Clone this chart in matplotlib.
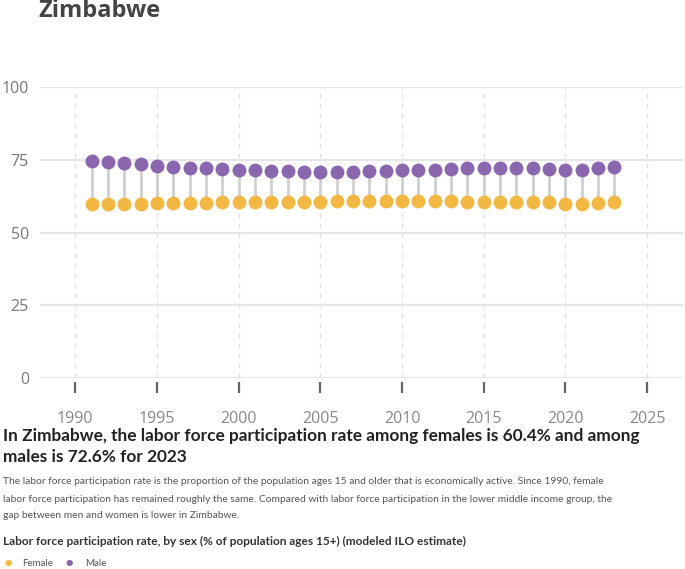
import matplotlib
matplotlib.use("Agg")
import matplotlib.pyplot as plt

years = list(range(1991, 2024))
female = [59.7, 59.8, 59.8, 59.9, 60.1, 60.2, 60.3, 60.3, 60.4, 60.5,
          60.6, 60.6, 60.7, 60.7, 60.7, 60.8, 60.8, 60.8, 60.8, 60.8,
          60.8, 60.8, 60.8, 60.7, 60.7, 60.7, 60.7, 60.7, 60.7, 59.7,
          60.0, 60.1, 60.4]
male = [74.6, 74.3, 73.9, 73.5, 73.0, 72.7, 72.4, 72.2, 71.9, 71.6,
        71.4, 71.3, 71.2, 71.0, 71.0, 70.9, 70.9, 71.1, 71.3, 71.5,
        71.6, 71.7, 72.0, 72.2, 72.3, 72.4, 72.4, 72.2, 72.0, 71.4,
        71.7, 72.4, 72.6]
xticks = [1990, 1995, 2000, 2005, 2010, 2015, 2020, 2025]
yticks = [0, 25, 50, 75, 100]

country = "Zimbabwe"
headline = ["In Zimbabwe, the labor force participation rate among females is 60.4% and among",
            "males is 72.6% for 2023"]
body = ["The labor force participation rate is the proportion of the population ages 15 and older that is economically active. Since 1990, female",
        "labor force participation has remained roughly the same. Compared with labor force participation in the lower middle income group, the",
        "gap between men and women is lower in Zimbabwe."]
subtitle = "Labor force participation rate, by sex (% of population ages 15+) (modeled ILO estimate)"

FEMALE_C = "#f2b843"
MALE_C = "#8a66ae"

plt.rcParams['font.family'] = ['Open Sans', 'DejaVu Sans']

fig = plt.figure(figsize=(6.85, 5.69), dpi=100)
renderer = fig.canvas.get_renderer()


def fit_size(txt, width_px, start=10):
    # shrink/grow font so the line spans about width_px
    t = txt.get_fontsize()
    for _ in range(3):
        w = txt.get_window_extent(renderer).width
        t = t * width_px / w
        txt.set_fontsize(t)
    return t


ax = fig.add_axes([40 / 685, (569 - 378) / 569, 643 / 685, (378 - 87.3) / 569])
ax.set_xlim(1987.84, 2027.2)
ax.set_ylim(0, 100)
for s in ax.spines.values():
    s.set_visible(False)

for y in yticks:
    ax.axhline(y, color="#e6e6e6", lw=1.6, zorder=0)
for x in xticks:
    ax.axvline(x, color="#e0e0e0", lw=0.9, ls=(0, (4, 4)), zorder=0)
ax.vlines(xticks, -1.4, -5.2, color="#666666", lw=1.6, clip_on=False)

ax.vlines(years, female, male, color="#d0d0d0", lw=2, zorder=1)
ax.plot(years, male, "o", color=MALE_C, ms=10, mec="none", zorder=3)
ax.plot(years, female, "o", color=FEMALE_C, ms=10, mec="none", zorder=3)

ax.set_xticks(xticks)
ax.set_xticklabels([str(x) for x in xticks])
ax.set_yticks(yticks)
ax.set_yticklabels([str(y) for y in yticks])
ax.tick_params(axis="x", length=0, pad=24, labelsize=11.5, labelcolor="#888888")
ax.tick_params(axis="y", length=0, pad=8, labelsize=11.5, labelcolor="#777777")

fig.text(38 / 685, 1 - 11 / 569, country, fontsize=17, fontweight="bold",
         color="#444444", va="center", ha="left")

# headline, two lines
h1 = fig.text(3 / 685, 1 - 436 / 569, headline[0], fontsize=12, fontweight="bold",
              color="#222222", va="center", ha="left", family="Lato")
hs = fit_size(h1, 640)
fig.text(3 / 685, 1 - 457 / 569, headline[1], fontsize=hs, fontweight="bold",
         color="#222222", va="center", ha="left", family="Lato")

# body text
b1 = fig.text(3 / 685, 1 - 482 / 569, body[0], fontsize=8, color="#555555",
              va="center", ha="left", family="Lato")
bs = fit_size(b1, 602)
for i, line in enumerate(body[1:]):
    fig.text(3 / 685, 1 - (499 + 17 * i) / 569, line, fontsize=bs, color="#555555",
             va="center", ha="left", family="Lato")

st = fig.text(3 / 685, 1 - 541 / 569, subtitle, fontsize=8, fontweight="bold",
              color="#333333", va="center", ha="left", family="Lato")
fit_size(st, 469)

fig.text(8 / 685, 1 - 563 / 569, "\u25CF", color=FEMALE_C, fontsize=6,
         va="center", ha="center", family="DejaVu Sans")
fig.text(22 / 685, 1 - 563 / 569, "Female", color="#555555", fontsize=7,
         va="center", ha="left", family="Lato")
fig.text(69 / 685, 1 - 563 / 569, "\u25CF", color=MALE_C, fontsize=6,
         va="center", ha="center", family="DejaVu Sans")
fig.text(85 / 685, 1 - 563 / 569, "Male", color="#555555", fontsize=7,
         va="center", ha="left", family="Lato")

fig.savefig("out.png", dpi=100)
